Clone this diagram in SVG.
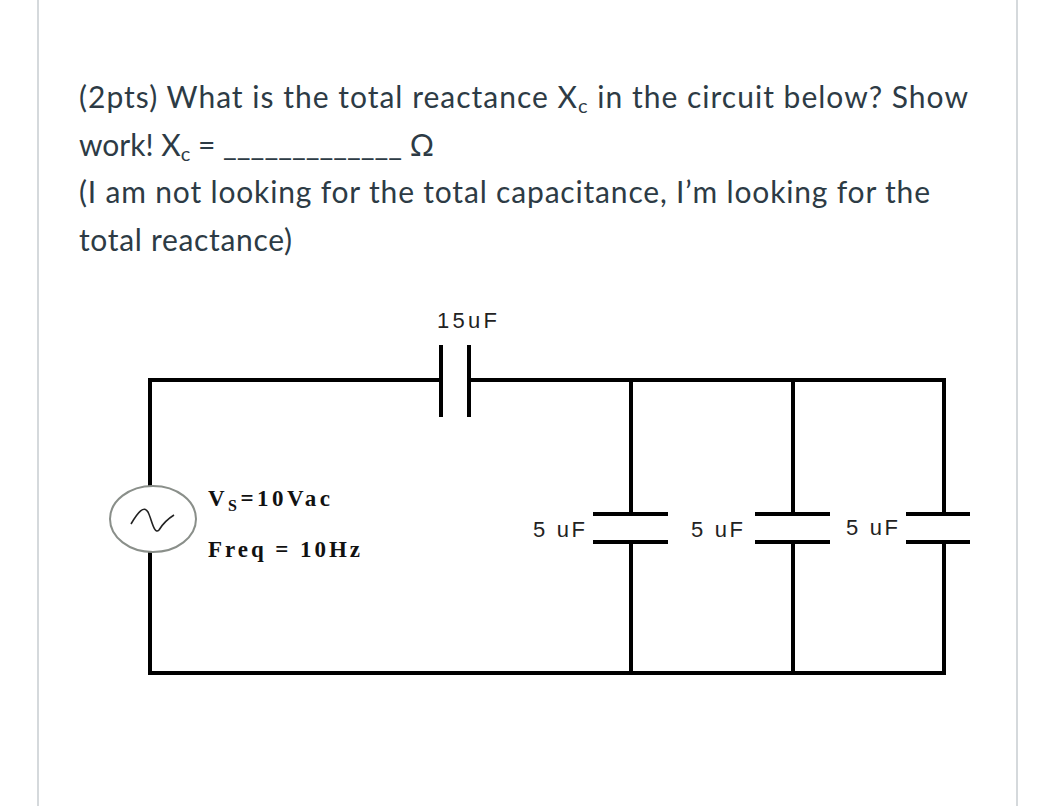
<svg xmlns="http://www.w3.org/2000/svg" width="1058" height="806" viewBox="0 0 1058 806">
<style>
.q{font-family:Lato,"Liberation Sans",sans-serif;font-size:30px;fill:#2d3b45}
.w{stroke:#000;stroke-width:4;fill:none}
.l{font-family:"Liberation Sans",Arial,sans-serif;font-size:22px;fill:#222}
.b{font-family:"Liberation Serif","Times New Roman",serif;font-size:23px;font-weight:bold;fill:#111}
</style>
<rect width="1058" height="806" fill="#fff"/>
<line x1="38" y1="0" x2="38" y2="806" stroke="#c7cdd1" stroke-width="1.5"/>
<line x1="1017" y1="0" x2="1017" y2="806" stroke="#c7cdd1" stroke-width="1.5"/>
<text class="q" x="79" y="108" textLength="889" lengthAdjust="spacing">(2pts)  What is the total reactance X<tspan font-size="20" dy="5">c</tspan><tspan dy="-5"> in the circuit below? Show</tspan></text>
<text class="q" x="79" y="156">work! X<tspan font-size="20" dy="5">c</tspan><tspan dy="-5"> =  _____________  Ω</tspan></text>
<text class="q" x="79" y="203" textLength="851" lengthAdjust="spacing">(I am not looking for the total capacitance, I’m looking for the</text>
<text class="q" x="79" y="251" textLength="213" lengthAdjust="spacing">total reactance)</text>
<g id="connectors">
<path class="w" d="M441,380 H150 V486 M150,552 V673 H944 V542 M944,514 V380 H469"/>
<path class="w" d="M631,380 V514 M631,542 V673 M793,380 V514 M793,542 V673"/>
</g>
<g id="C1"><line class="w" x1="441" y1="345" x2="441" y2="417"/><line class="w" x1="469" y1="345" x2="469" y2="417"/><text class="l" x="437" y="328" textLength="60">15uF</text></g>
<g id="C2"><line class="w" x1="593" y1="514" x2="668" y2="514"/><line class="w" x1="593" y1="542" x2="668" y2="542"/><text class="l" x="533" y="537" textLength="52">5 uF</text></g>
<g id="C3"><line class="w" x1="755" y1="514" x2="830" y2="514"/><line class="w" x1="755" y1="542" x2="830" y2="542"/><text class="l" x="691" y="537" textLength="52">5 uF</text></g>
<g id="C4"><line class="w" x1="906" y1="514" x2="970" y2="514"/><line class="w" x1="906" y1="542" x2="970" y2="542"/><text class="l" x="846" y="535" textLength="52">5 uF</text></g>
<g id="source">
<ellipse cx="153" cy="519" rx="43" ry="33" fill="#fff" stroke="#8a8f8a" stroke-width="2"/>
<path d="M131,524 C138,512 144,505 148,512 C152,520 154,535 159,530 C162,525 166,520 174,515" fill="none" stroke="#222" stroke-width="1.6"/>
<text class="b" x="208" y="506" textLength="122">V<tspan font-size="16" dy="5">S</tspan><tspan dy="-5">=10Vac</tspan></text>
<text class="b" x="208" y="557" textLength="152">Freq = 10Hz</text>
</g>
</svg>
